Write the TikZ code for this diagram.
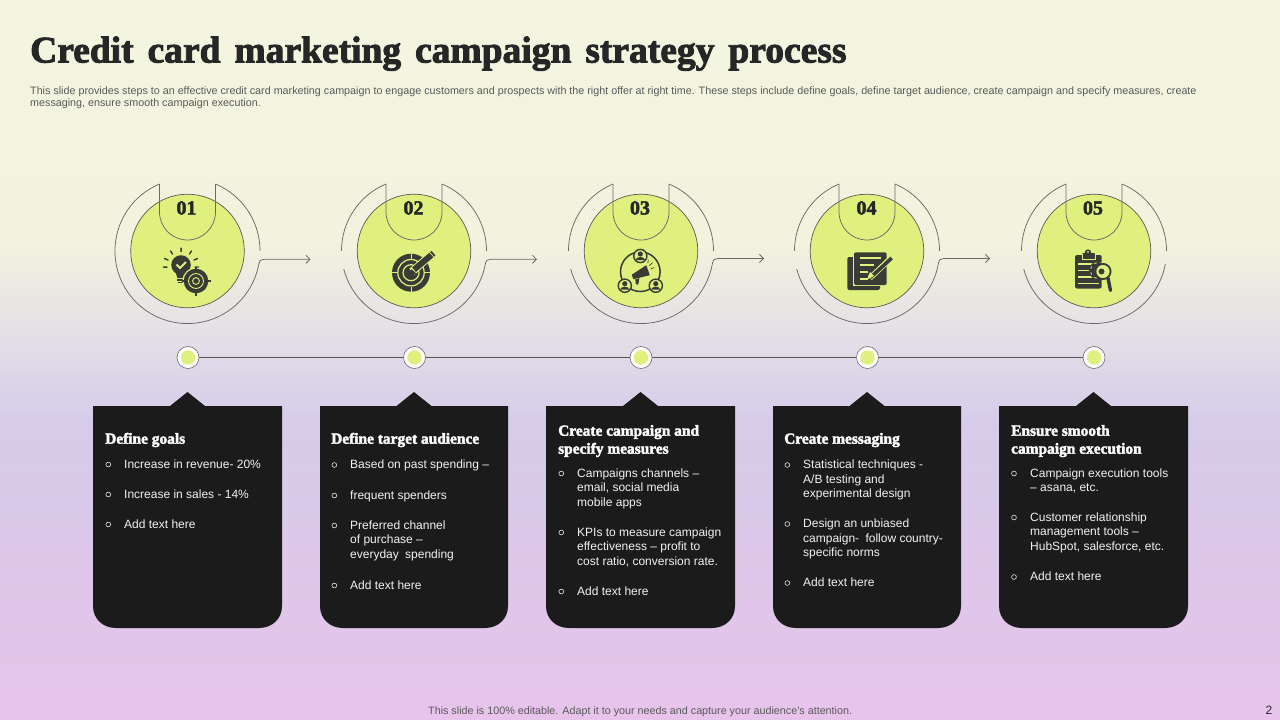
\documentclass[tikz,border=0pt]{standalone}
\usepackage{fontspec}
\setmainfont{Liberation Sans}
\newfontfamily\headfont[FakeBold=2.4]{Liberation Serif Bold}
\usetikzlibrary{arrows.meta}
\definecolor{bgA}{HTML}{F4F5E0}
\definecolor{bgB}{HTML}{F2F3DF}
\definecolor{bgC}{HTML}{E4E0E6}
\definecolor{bgD}{HTML}{D6CCEA}
\definecolor{bgE}{HTML}{E2C5EA}
\definecolor{bgF}{HTML}{E8C4EC}
\definecolor{lime}{HTML}{E0F07E}
\definecolor{ink}{HTML}{3B3B36}
\definecolor{cardk}{HTML}{1B1B1C}
\definecolor{ringc}{HTML}{6A6A66}
\definecolor{titlec}{HTML}{262626}
\definecolor{descc}{HTML}{595959}
\pgfdeclareverticalshading{bgshade}{100bp}{color(0bp)=(bgF);color(25bp)=(bgF);color(29.9bp)=(bgE);color(45.8bp)=(bgD);color(52bp)=(bgC);color(58.3bp)=(bgB);color(75bp)=(bgA);color(100bp)=(bgA)}
\newcommand{\fl}{\rule{0pt}{11pt}}
\newcommand{\hfl}{\rule{0pt}{13pt}}
\tikzset{
 x=1pt,y=-1pt,
 ringline/.style={draw=ringc,line width=0.75pt},
 numlabel/.style={font=\headfont\fontsize{20}{20}\selectfont,text=black!85,anchor=base,inner sep=0pt},
 cardhead/.style={font=\headfont\fontsize{15.4}{18}\selectfont,text=white,anchor=north west,inner sep=0pt,align=left},
 cardbody/.style={font=\fontsize{12}{14.5}\selectfont,text=white!95!black,anchor=north west,inner sep=0pt,align=left},
 bulletmark/.style={draw=white!90!black,line width=0.6pt},
 dotnode/.style={circle,draw=ringc,line width=0.6pt,fill=white,minimum size=22pt,inner sep=0pt},
 timeline/.style={draw=ringc!80!black,line width=0.9pt},
 arrowline/.style={draw=ringc,line width=0.8pt,-{Straight Barb[length=4pt,width=8pt]}},
 iconink/.style={fill=ink,draw=none},
 cardfill/.style={fill=cardk,draw=none},
}
\newcommand{\ringset}[2]{%
 \begin{scope}[shift={(#1,251)}]
 \fill[lime,draw=ink!85,line width=0.7pt] (0,0) circle (56.8);
 \draw[ringline] (28,-67) -- (28,-39) arc[start angle=0,end angle=180,radius=28] -- (-28,-67);
 \draw[ringline] (28,-67) arc[start angle=-67.3,end angle=0,radius=72.5];
 \ifnum#2=1
  \draw[ringline] (-28,-67) arc[start angle=-112.7,end angle=-180,radius=72.5];
  \draw[ringline] (71.3,13) arc[start angle=10.3,end angle=165.6,radius=72.5];
 \else
  \draw[ringline] (-28,-67) arc[start angle=-112.7,end angle=-180,radius=72.5];
  \draw[ringline] (71.3,13) arc[start angle=10.3,end angle=180,radius=72.5];
 \fi
 \end{scope}}
\newcommand{\cardshape}[3]{%
 \fill[cardfill] (#1,406) -- (#3-17.5,406) -- (#3,392) -- (#3+17.5,406) -- (#2,406) -- (#2,606) .. controls (#2,619) and (#2-10,628) .. (#2-23,628) -- (#1+23,628) .. controls (#1+10,628) and (#1,619) .. (#1,606) -- cycle;}
\newcommand{\bul}[2]{\draw[bulletmark] (#1,#2) circle (2.4);}
\begin{document}
\begin{tikzpicture}
\useasboundingbox (0,0) rectangle (1280,720);
\fill[shading=bgshade] (0,0) rectangle (1280,720);
% heading
\node[anchor=base west,inner sep=0pt,text=titlec,font=\headfont\fontsize{37.5}{37.5}\selectfont] (title) at (30,62.5) {Credit\hspace{4.6pt} card\hspace{4.6pt} marketing\hspace{4.6pt} campaign\hspace{4.6pt} strategy\hspace{4.6pt} process};
\node[anchor=north west,inner sep=0pt,text=descc,align=left,font=\fontsize{10.75}{12}\selectfont] (desc) at (30,85) {\rule{0pt}{9pt}This slide provides steps to an effective credit card marketing campaign to engage customers and prospects with the right offer at right time. These steps include define goals, define target audience, create campaign and specify measures, create\\messaging, ensure smooth campaign execution.};
% rings
\ringset{187.5}{0}
\ringset{414}{1}
\ringset{641}{1}
\ringset{867}{1}
\ringset{1094}{1}
% numbers
\node[numlabel] (n1) at (186.5,214.5) {01};
\node[numlabel] (n2) at (413.5,214.5) {02};
\node[numlabel] (n3) at (640,214.5) {03};
\node[numlabel] (n4) at (866.5,214.5) {04};
\node[numlabel] (n5) at (1093,214.5) {05};
% arrows
\coordinate (a1) at (310.5,259.3);
\coordinate (a2) at (537,259.3);
\coordinate (a3) at (764,258.5);
\coordinate (a4) at (990,258.5);
\coordinate (t1) at (258.8,264);
\coordinate (t2) at (485.3,264);
\coordinate (t3) at (712.3,264);
\coordinate (t4) at (938.3,264);
\draw[arrowline] (t1) .. controls (259.5,260.5) and (261,259.3) .. (264,259.3) -- (a1);
\draw[arrowline] (t2) .. controls (486,260.5) and (487.5,259.3) .. (490.5,259.3) -- (a2);
\draw[arrowline] (t3) .. controls (713,260) and (714.5,258.5) .. (717.5,258.5) -- (a3);
\draw[arrowline] (t4) .. controls (939,260) and (940.5,258.5) .. (943.5,258.5) -- (a4);
% timeline
\node[dotnode] (d1) at (188,357.5) {};
\node[dotnode] (d2) at (414.5,357.5) {};
\node[dotnode] (d3) at (641,357.5) {};
\node[dotnode] (d4) at (867.5,357.5) {};
\node[dotnode] (d5) at (1094,357.5) {};
\draw[timeline] (d1) -- (d2);
\draw[timeline] (d2) -- (d3);
\draw[timeline] (d3) -- (d4);
\draw[timeline] (d4) -- (d5);
\foreach \p in {d1,d2,d3,d4,d5} \fill[lime] (\p) circle (7.2);
% icon 1
\begin{scope}[shift={(187.5,251)}]
 \fill[iconink] (-6.5,14) circle (9.8);
 \fill[iconink] (-12.5,20) -- (-1,20) -- (-1,27) -- (-10,27) -- cycle;
 \draw[ink,line width=1.1pt] (-11,29) -- (-3,29) (-10,31.5) -- (-4,31.5);
 \draw[lime,line width=1.8pt] (-11,13.5) -- (-7.5,17) -- (-1.5,11);
 \draw[ink,line width=1.5pt,line cap=round] (-6.5,0.5) -- (-6.5,-3) (-15,3) -- (-17,0) (2,3) -- (4,0) (-19.5,9) -- (-23,7.5) (6.5,9) -- (10,7.5) (-20.5,16) -- (-24,16) (7.5,16) -- (11,16);
 \fill[lime] (8.5,30) circle (13.6);
 \fill[iconink] (8.5,30) circle (12.3);
 \draw[ink,line width=1.3pt] (8.5,15.5) -- (8.5,44.5) (-6,30) -- (23,30);
 \draw[lime,line width=1pt] (8.5,30) circle (7.4);
 \fill[iconink] (8.5,30) circle (6.7);
 \draw[lime,line width=0.9pt] (8.5,30) circle (3.4);
\end{scope}
% icon 2
\begin{scope}[shift={(411,272.7)}]
 \fill[iconink] (0,0) circle (19);
 \draw[lime,line width=1.2pt] (0,0) circle (13.2);
 \draw[lime,line width=1.2pt] (0,0) circle (8);
 \draw[lime,line width=0.8pt] (0,-19) -- (0,-14) (0,19) -- (0,14) (-19,0) -- (-14,0) (19,0) -- (14,0);
 \draw[lime,line width=8pt] (1,-1) -- (22,-19.5);
 \draw[ink,line width=6pt] (3,-3) -- (22.5,-19.5);
 \fill[ink] (-1,2) -- (0.5,-3.5) -- (5.5,1) -- cycle;
 \draw[lime,line width=0.7pt] (18.5,-20.5) -- (23.5,-15);
\end{scope}
% icon 3
\begin{scope}[shift={(640.3,271.7)}]
 \draw[ink,line width=1.5pt] (0,0) circle (19.8);
 \foreach \qx/\qy in {0/-15.7,-15.5/14,15.5/14} {
  \begin{scope}[shift={(\qx,\qy)}]
   \fill[lime,draw=ink,line width=1.4pt] (0,0) circle (6.6);
   \fill[ink] (0,-2) circle (2.6);
   \fill[ink] (-4.8,4) .. controls (-4,0) and (4,0) .. (4.8,4) -- cycle;
  \end{scope}}
 \fill[ink] (-8.5,3) -- (6,-6.5) -- (9.5,3.5) -- (-7,7.5) -- cycle;
 \fill[ink] (-5,7.5) -- (-1,6.5) -- (-2,13) -- (-4.5,12.5) -- cycle;
 \draw[ink,line width=0.7pt] (9,-6) -- (12,-9) (10.5,-3) -- (14,-4) (7.5,-8.5) -- (8,-12);
\end{scope}
% icon 4
\begin{scope}[shift={(867,251)}]
 \fill[iconink,rounded corners=2pt] (-19.7,6) rectangle (13,39);
 \fill[lime] (-14.5,0.5) rectangle (21,35.2);
 \fill[iconink,rounded corners=2pt] (-13,1.3) rectangle (19.7,34);
 \draw[lime,line width=1.2pt] (-7.5,7) -- (14,7) (-7.5,14) -- (7,14) (-7.5,21) -- (1,21) (-7.5,28) -- (1,28);
 \draw[lime,line width=5.5pt] (3,27) -- (23,8);
 \draw[ink,line width=3.6pt] (3.5,26.5) -- (24.7,7);
 \fill[lime] (0,28.5) -- (3,21) -- (7,25) -- cycle;
\end{scope}
% icon 5
\begin{scope}[shift={(1094,251)}]
 \fill[iconink,rounded corners=2pt] (-19,4) rectangle (7.7,37.5);
 \fill[iconink,rounded corners=1pt] (-12,2) rectangle (1,8);
 \fill[iconink] (-6,1.5) circle (3.2);
 \fill[lime] (-6,0.8) circle (1);
 \draw[lime,line width=1pt] (-12,3) -- (-12,8) -- (1,8) -- (1,3);
 \draw[lime,line width=1.4pt] (-16,13) -- (4,13) (-16,19.5) -- (0,19.5) (-16,26) -- (3,26) (-16,32.5) -- (5,32.5);
 \fill[ink,draw=lime,line width=0.8pt] (4.5,19.5) circle (8);
 \foreach \a in {0,45,...,315} \fill[ink] (4.5,19.5) ++(\a:7.6) circle (2);
 \fill[lime,draw=ink,line width=1.8pt] (9,20.5) circle (7.6);
 \fill[ink] (7.5,20.5) circle (3);
 \draw[ink,line width=3.4pt,line cap=round] (14,27) -- (16.5,39.5);
\end{scope}
% cards
\cardshape{93}{282}{187.5}
\cardshape{320}{508}{414}
\cardshape{546}{735}{640.5}
\cardshape{773}{961}{867}
\cardshape{999}{1188}{1093.5}
% card 1
\node[cardhead] (h1) at (105,430.5) {\hfl Define goals};
\bul{108.3}{464.5}\node[cardbody] (b11) at (124,457.2) {\fl Increase in revenue- 20\%};
\bul{108.3}{494.5}\node[cardbody] (b12) at (124,487.2) {\fl Increase in sales - 14\%};
\bul{108.3}{524.5}\node[cardbody] (b13) at (124,517.2) {\fl Add text here};
% card 2
\node[cardhead] (h2) at (331,430.5) {\hfl Define target audience};
\bul{334.3}{465}\node[cardbody] (b21) at (350,457.5) {\fl Based on past spending --};
\bul{334.3}{495.5}\node[cardbody] (b22) at (350,488) {\fl frequent spenders};
\bul{334.3}{525.5}\node[cardbody] (b23) at (350,518) {\fl Preferred channel\\of purchase --\\everyday\hspace{3pt} spending};
\bul{334.3}{585.5}\node[cardbody] (b24) at (350,578) {\fl Add text here};
% card 3
\node[cardhead] (h3) at (558,422.5) {\hfl Create campaign and\\specify measures};
\bul{561.3}{473.5}\node[cardbody] (b31) at (577,466) {\fl Campaigns channels --\\email, social media\\mobile apps};
\bul{561.3}{532.5}\node[cardbody] (b32) at (577,525) {\fl KPIs to measure campaign\\effectiveness -- profit to\\cost ratio, conversion rate.};
\bul{561.3}{591.5}\node[cardbody] (b33) at (577,584) {\fl Add text here};
% card 4
\node[cardhead] (h4) at (784,430.5) {\hfl Create messaging};
\bul{787.3}{465}\node[cardbody] (b41) at (803,457.5) {\fl Statistical techniques -\\A/B testing and\\experimental design};
\bul{787.3}{524}\node[cardbody] (b42) at (803,516.5) {\fl Design an unbiased\\campaign-\hspace{3pt} follow country-\\specific norms};
\bul{787.3}{583}\node[cardbody] (b43) at (803,575.5) {\fl Add text here};
% card 5
\node[cardhead] (h5) at (1011,422.5) {\hfl Ensure smooth\\campaign execution};
\bul{1014}{473.5}\node[cardbody] (b51) at (1030,466) {\fl Campaign execution tools\\-- asana, etc.};
\bul{1014}{517.5}\node[cardbody] (b52) at (1030,510) {\fl Customer relationship\\management tools --\\HubSpot, salesforce, etc.};
\bul{1014}{577}\node[cardbody] (b53) at (1030,569.5) {\fl Add text here};
% footer
\node[anchor=base west,inner sep=0pt,text=descc,font=\fontsize{10.75}{12}\selectfont] (foot) at (428,714) {This slide is 100\% editable.  Adapt it to your needs and capture your audience's attention.};
\node[anchor=base,inner sep=0pt,text=titlec,font=\fontsize{12}{12}\selectfont] (pg) at (1269,714.5) {2};
\end{tikzpicture}
\end{document}
